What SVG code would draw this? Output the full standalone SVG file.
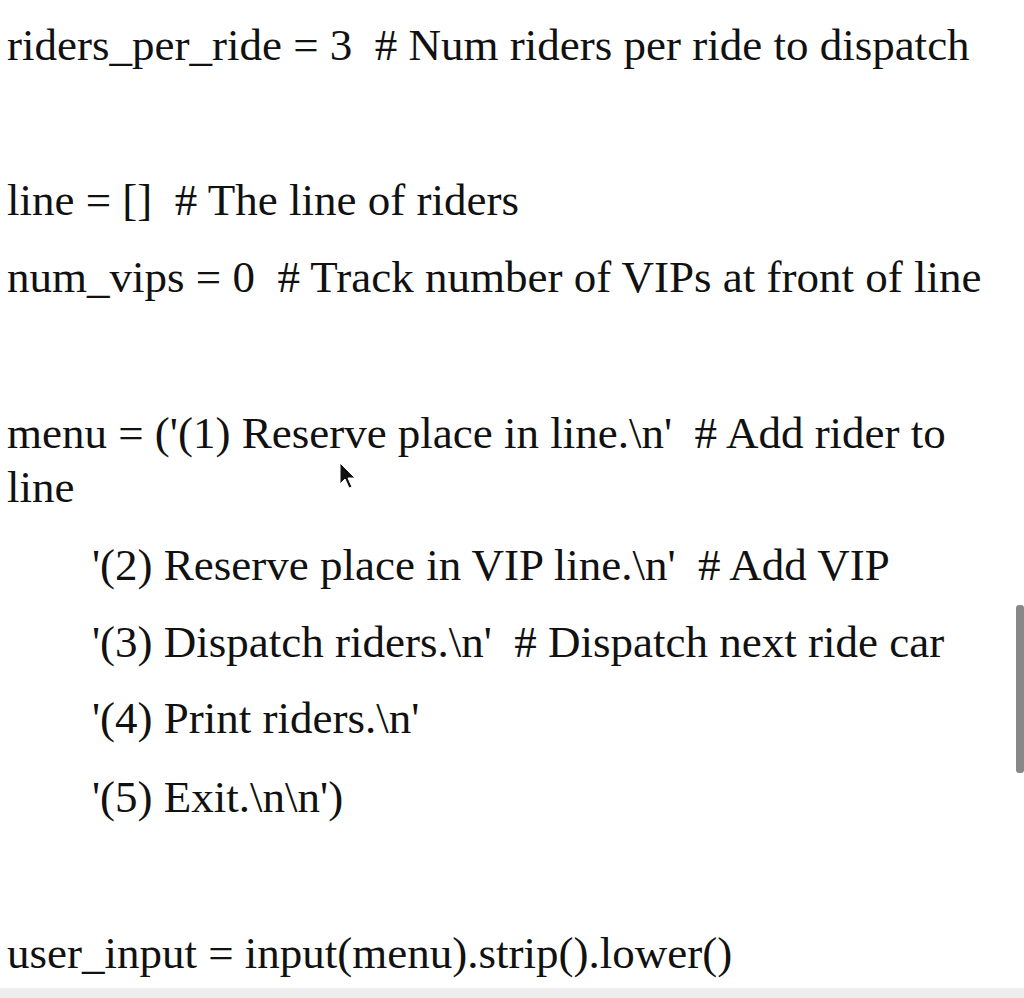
<svg xmlns="http://www.w3.org/2000/svg" width="1024" height="998" viewBox="0 0 1024 998">
<style>text{font-family:"Liberation Serif","Times New Roman",serif;font-size:45px;fill:#111;white-space:pre}</style>
<rect width="1024" height="998" fill="#fff"/>
<rect x="1016" y="605" width="8" height="168" rx="3" fill="#888"/>
<rect x="0" y="988" width="1024" height="10" fill="#eee"/>
<g id="code">
<text x="7" y="60">riders_per_ride = 3  # Num riders per ride to dispatch</text>
<text x="7" y="215">line = []  # The line of riders</text>
<text x="7" y="292">num_vips = 0  # Track number of VIPs at front of line</text>
<text x="7" y="448">menu = ('(1) Reserve place in line.\n'  # Add rider to</text>
<text x="7" y="502">line</text>
<text x="92" y="580">'(2) Reserve place in VIP line.\n'  # Add VIP</text>
<text x="92" y="657">'(3) Dispatch riders.\n'  # Dispatch next ride car</text>
<text x="92" y="733">'(4) Print riders.\n'</text>
<text x="92" y="812">'(5) Exit.\n\n')</text>
<text x="7" y="968">user_input = input(menu).strip().lower()</text>
</g>
<polygon points="340,463 340,484 345,479 349,488 352,487 348,478 355,478" fill="#111" stroke="#fff" stroke-width="1"/>
</svg>
